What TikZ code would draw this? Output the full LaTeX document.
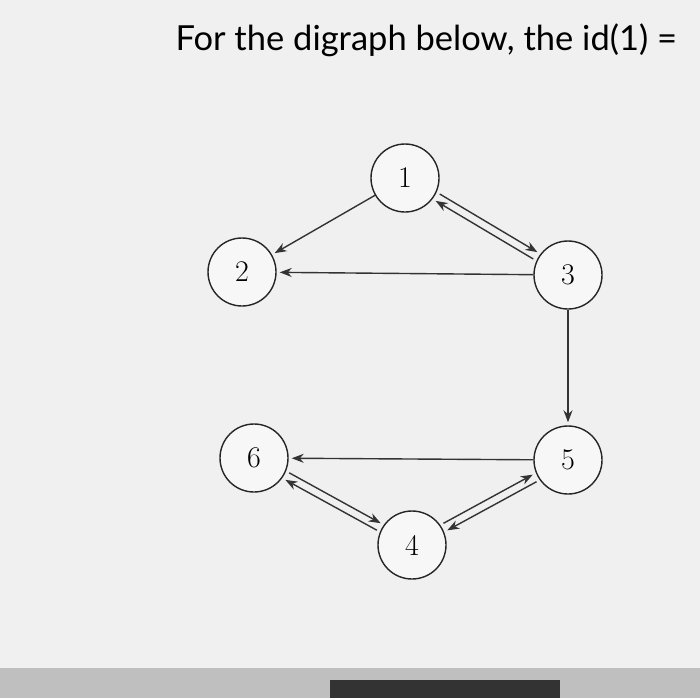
\documentclass[tikz,border=0pt]{standalone}
\usepackage{fontspec}
\newfontfamily\titlefont{Lato}
\usetikzlibrary{calc,arrows.meta}
\begin{document}
\begin{tikzpicture}[x=1pt,y=-1pt,
  vtx/.style={circle,draw=black!85,line width=1.4pt,fill=white!97!black,minimum size=68pt,inner sep=0pt,font=\fontsize{30}{30}\selectfont},
  arr/.style={line width=1.4pt,draw=black!80,-{Stealth[length=12pt,width=9pt]}},
  dbl/.style={line width=1.4pt,draw=black!80,-{Stealth[length=12pt,width=9pt]},shorten >=38pt,shorten <=38pt}]
\fill[black!6] (0,0) rectangle (700,698);
\fill[black!25] (0,668) rectangle (700,698);
\fill[black!80] (330,680) rectangle (560,698);
\node[anchor=west,font=\titlefont\fontsize{34.5}{34.5}\selectfont] (t) at (172,40) {For the digraph below, the id(1) =};
\node[vtx] (1) at (405,178) {1};
\node[vtx] (2) at (242,272) {2};
\node[vtx] (3) at (568,275) {3};
\node[vtx] (5) at (568,460) {5};
\node[vtx] (6) at (254,458) {6};
\node[vtx] (4) at (412,545) {4};
\draw[arr,shorten >=3pt] (1) -- (2);
\draw[arr,shorten >=3pt] (3) -- (2);
\draw[arr,shorten >=3pt] (3) -- (5);
\draw[arr,shorten >=3pt] (5) -- (6);
\draw[dbl] ($(1)!4pt!90:(3)$) -- ($(3)!4pt!-90:(1)$);
\draw[dbl] ($(3)!4pt!90:(1)$) -- ($(1)!4pt!-90:(3)$);
\draw[dbl] ($(6)!4pt!90:(4)$) -- ($(4)!4pt!-90:(6)$);
\draw[dbl] ($(4)!4pt!90:(6)$) -- ($(6)!4pt!-90:(4)$);
\draw[dbl] ($(4)!4pt!90:(5)$) -- ($(5)!4pt!-90:(4)$);
\draw[dbl] ($(5)!4pt!90:(4)$) -- ($(4)!4pt!-90:(5)$);
\end{tikzpicture}
\end{document}
